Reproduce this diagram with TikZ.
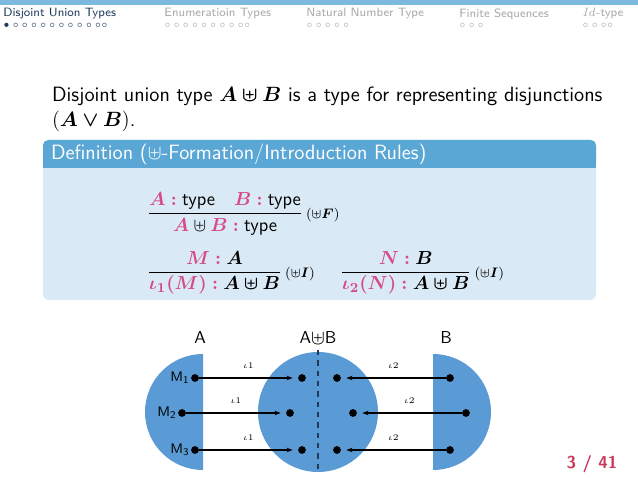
\documentclass[tikz,border=0pt]{standalone}
\usepackage{amsmath,amssymb,bm}
\usetikzlibrary{arrows.meta}
\definecolor{barblue}{HTML}{5AA7D6}
\definecolor{lightbox}{HTML}{D9EAF6}
\definecolor{pinkm}{HTML}{D64B85}
\definecolor{navg}{HTML}{A8A8A8}
\definecolor{navd}{HTML}{1F3A5A}
\definecolor{shapeblue}{HTML}{5B9BD5}
\definecolor{pagered}{HTML}{C8385A}
\newcommand{\pk}[1]{{\color{pinkm}\bm{#1}}}
\begin{document}
\begin{tikzpicture}[x=0.58pt,y=-0.58pt,
  nav/.style={anchor=west,font=\sffamily\scriptsize,text=navg,inner sep=0},
  navdots/.style={anchor=west,font=\tiny,text=navg,inner sep=0},
  dotn/.style={circle,fill=black,inner sep=0,minimum size=4.5pt},
  arr/.style={-{Stealth[length=3.5pt]},shorten >=3pt,shorten <=0pt,semithick},
  lab/.style={font=\tiny,inner sep=1pt},
  big/.style={font=\sffamily\large},
  rule/.style={anchor=west,font=\sffamily\fontsize{11}{13}\selectfont}]
\useasboundingbox (0,0) rectangle (638,479);
\fill[barblue!80] (0,0) rectangle (638,5);
\node[nav,text=navd] (n1) at (3,14) {Disjoint Union Types};
\node[navdots,text=navd] (d1) at (3,25) {$\bullet\circ\circ\circ\circ\circ\circ\circ\circ\circ\circ\circ$};
\node[nav] (n2) at (164,14) {Enumeratioin Types};
\node[navdots] (d2) at (164,25) {$\circ\circ\circ\circ\circ\circ\circ\circ\circ\circ$};
\node[nav] (n3) at (306,14) {Natural Number Type};
\node[navdots] (d3) at (306,25) {$\circ\circ\circ\circ\circ$};
\node[nav] (n4) at (459,14) {Finite Sequences};
\node[navdots] (d4) at (459,25) {$\circ\circ\circ$};
\node[nav] (n5) at (582,14) {$\mathit{Id}$-type};
\node[navdots] (d5) at (582,25) {$\circ\circ\circ\circ$};

\node[big,anchor=west] (t1) at (46,96) {Disjoint union type $\bm{A\uplus B}$ is a type for representing disjunctions};
\node[big,anchor=west] (t2) at (46,121) {$(\bm{A\vee B})$.};

\fill[lightbox,rounded corners=3pt] (43,140) rectangle (596,300);
\fill[barblue,rounded corners=3pt] (43,140) rectangle (596,168);
\fill[barblue] (43,160) rectangle (596,168);
\node[big,anchor=west,text=white] (dh) at (45,154) {Definition ($\uplus$-Formation/Introduction Rules)};

\node[rule] (r1) at (141,214) {$\dfrac{\pk{A}\;\pk{:}\;\text{type}\quad \pk{B}\;\pk{:}\;\text{type}}{\pk{A}\uplus\pk{B}\;\pk{:}\;\text{type}}\,{\scriptstyle(\uplus \bm{F})}$};
\node[rule] (r2) at (141,273) {$\dfrac{\pk{M}\;\pk{:}\;\bm{A}}{\pk{\iota_1(M)}\;\pk{:}\;\bm{A\uplus B}}\,{\scriptstyle(\uplus \bm{I})}$};
\node[rule] (r3) at (334,273) {$\dfrac{\pk{N}\;\pk{:}\;\bm{B}}{\pk{\iota_2(N)}\;\pk{:}\;\bm{A\uplus B}}\,{\scriptstyle(\uplus \bm{I})}$};

% diagram
\begin{scope}
\clip (140,350) rectangle (203,475);
\fill[shapeblue] (203,412) circle (58);
\end{scope}
\fill[shapeblue] (318,412) circle (60);
\begin{scope}
\clip (433,350) rectangle (500,475);
\fill[shapeblue] (433,412) circle (58);
\end{scope}
\draw[dashed,navd,thick] (318,350) -- (318,474);
\node[font=\sffamily] (la) at (200,338) {A};
\node[font=\sffamily] (lab) at (318,338) {A\raisebox{-1pt}{\large$\uplus$}B};
\node[font=\sffamily] (lb) at (446,338) {B};

\node[dotn] (a1) at (195,378) {};
\node[dotn] (a2) at (182,413) {};
\node[dotn] (a3) at (195,450) {};
\node[font=\sffamily\footnotesize,anchor=east,inner sep=0.5pt] at (a1.west) {M\textsubscript{1}};
\node[font=\sffamily\footnotesize,anchor=east,inner sep=0.5pt] at (a2.west) {M\textsubscript{2}};
\node[font=\sffamily\footnotesize,anchor=east,inner sep=0.5pt] at (a3.west) {M\textsubscript{3}};
\node[dotn] (c1) at (302,378) {};
\node[dotn] (c2) at (290,413) {};
\node[dotn] (c3) at (302,450) {};
\node[dotn] (e1) at (337,378) {};
\node[dotn] (e2) at (353,413) {};
\node[dotn] (e3) at (337,450) {};
\node[dotn] (b1) at (450,378) {};
\node[dotn] (b2) at (466,413) {};
\node[dotn] (b3) at (450,450) {};
\draw[arr] (a1) -- node[lab,above=4pt]{$\iota1$} (c1);
\draw[arr] (a2) -- node[lab,above=4pt]{$\iota1$} (c2);
\draw[arr] (a3) -- node[lab,above=4pt]{$\iota1$} (c3);
\draw[arr] (b1) -- node[lab,above=4pt]{$\iota2$} (e1);
\draw[arr] (b2) -- node[lab,above=4pt]{$\iota2$} (e2);
\draw[arr] (b3) -- node[lab,above=4pt]{$\iota2$} (e3);

\node[font=\sffamily\bfseries,text=pagered] (pg) at (592,464) {3 / 41};
\end{tikzpicture}
\end{document}
